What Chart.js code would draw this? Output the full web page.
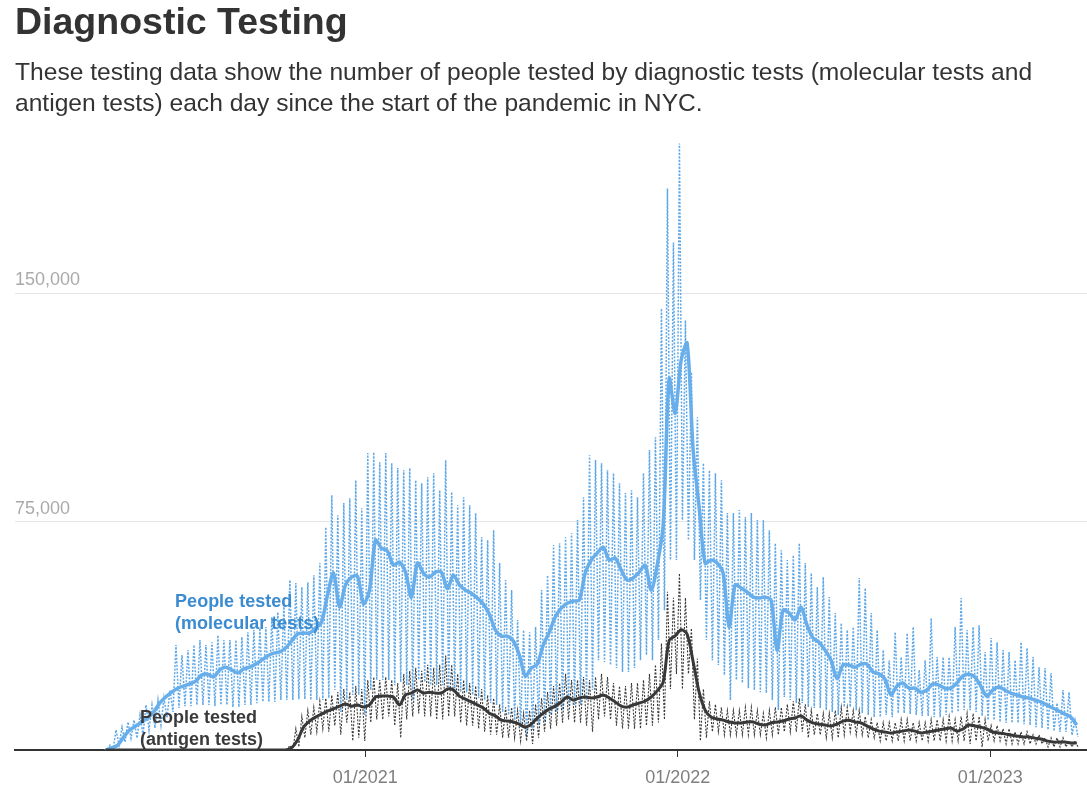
<!DOCTYPE html>
<html>
<head>
<meta charset="utf-8">
<title>Diagnostic Testing</title>
<script src="https://cdn.jsdelivr.net/npm/chart.js@4.4.1/dist/chart.umd.min.js"></script>
<style>
  body { margin: 0; background: #fff; font-family: "Liberation Sans", Arial, sans-serif; color: #333; }
  #wrap { position: relative; width: 1087px; height: 791px; overflow: hidden; }
  h1 { position: absolute; left: 15px; top: -1px; margin: 0; font-size: 37.5px; line-height: 44px; font-weight: bold; color: #333; }
  .sub { position: absolute; left: 15px; top: 56px; margin: 0; font-size: 24.6px; line-height: 31px; color: #333; white-space: nowrap; }
  canvas { position: absolute; left: 0; top: 0; }
</style>
</head>
<body>
<div id="wrap">
  <canvas id="chart" width="1087" height="791"></canvas>
  <h1>Diagnostic Testing</h1>
  <p class="sub">These testing data show the number of people tested by diagnostic tests (molecular tests and<br>antigen tests) each day since the start of the pandemic in NYC.</p>
</div>
<script>
// weekly readings, first week starting 2020-03-01, values in thousands of people
const firstWeek = '2020-03-01';

// molecular tests: 7-day average
const molecularAvgK = [
  0, 0.7, 1.6, 4.3, 6.6, 7.9, 9.2, 10.5, 12.5, 15.4,
  17.4, 19.0, 20.3, 21.0, 21.7, 22.6, 24.6, 24.9, 24.0, 26.3,
  27.2, 26.3, 25.3, 26.6, 27.2, 28.2, 29.5, 30.9, 31.8, 32.2,
  33.5, 35.8, 38.1, 38.4, 38.4, 40.0, 42.0, 50.9, 58.1, 47.0,
  54.2, 56.8, 57.1, 48.0, 52.5, 68.9, 66.3, 65.3, 60.7, 61.7,
  58.4, 50.2, 61.4, 58.1, 56.8, 58.4, 58.4, 53.0, 57.4, 54.2,
  52.5, 51.5, 49.9, 47.9, 44.6, 39.4, 37.4, 37.4, 35.8, 31.2,
  24.3, 26.9, 28.2, 34.5, 38.7, 43.7, 46.6, 48.2, 48.9, 49.2,
  58.1, 62.4, 64.7, 66.6, 62.4, 63.0, 59.1, 55.8, 56.5, 58.4,
  60.7, 52.5, 60.7, 73.8, 122.0, 110.6, 128.0, 133.6, 98.5, 79.8,
  61.4, 62.4, 61.4, 58.1, 40.5, 54.2, 53.2, 51.9, 50.2, 49.9,
  50.2, 49.2, 32.8, 45.9, 45.0, 42.7, 46.9, 41.0, 36.8, 35.4,
  32.8, 29.5, 23.5, 27.9, 27.9, 27.2, 28.2, 28.2, 25.6, 25.0,
  23.3, 18.1, 21.0, 22.0, 20.3, 20.3, 19.0, 19.7, 21.7, 21.3,
  20.3, 20.3, 22.0, 24.3, 24.9, 24.0, 21.0, 17.7, 19.7, 20.7,
  19.7, 18.7, 18.1, 17.4, 17.1, 16.4, 15.8, 14.8, 13.8, 12.8,
  11.8, 10.8, 8.2
];

// molecular tests: daily values, weekday high and weekend low of each week
const molecularHighK = [
  0, 1.6, 6.6, 7.5, 9.2, 9.8, 11.5, 14.8, 14.8, 16.4,
  17.1, 19.7, 34.5, 31.2, 32.8, 34.5, 36.1, 34.5, 35.4, 37.7,
  36.1, 36.1, 36.1, 37.1, 38.7, 39.4, 40.0, 40.4, 43.7, 45.3,
  48.2, 55.8, 54.8, 53.5, 55.1, 57.4, 61.4, 73.2, 83.7, 77.1,
  81.1, 82.7, 88.6, 79.4, 97.5, 97.8, 94.5, 97.5, 94.2, 92.6,
  91.9, 92.6, 88.6, 87.6, 89.6, 90.9, 85.3, 95.2, 84.7, 80.4,
  83.0, 80.4, 77.8, 69.9, 68.9, 72.2, 61.4, 55.8, 52.5, 42.7,
  39.4, 38.7, 40.4, 52.5, 57.4, 67.3, 67.9, 69.9, 71.2, 75.5,
  83.0, 96.8, 95.2, 94.2, 91.9, 90.9, 87.6, 84.4, 85.3, 83.0,
  90.9, 98.5, 102.7, 145.0, 184.4, 166.7, 199.2, 141.1, 124.1, 109.3,
  94.2, 91.9, 90.9, 88.6, 77.8, 77.8, 78.8, 76.5, 77.8, 75.5,
  75.5, 72.2, 67.9, 65.6, 62.4, 64.0, 67.9, 61.4, 58.1, 53.5,
  56.8, 50.2, 45.0, 41.7, 39.4, 40.4, 56.5, 53.2, 45.0, 39.4,
  32.8, 29.5, 38.7, 30.5, 38.4, 40.4, 26.3, 29.5, 43.3, 30.5,
  30.5, 30.5, 40.4, 49.9, 39.4, 40.4, 41.0, 32.2, 36.8, 35.4,
  32.8, 32.2, 29.5, 35.4, 33.5, 30.5, 27.2, 26.9, 25.3, 15.4,
  19.7, 19.0, 9.8
];
const molecularLowK = [
  0, 0, 1.6, 2.6, 3.9, 3.9, 4.9, 6.6, 7.2, 8.2,
  10.5, 12.5, 13.8, 14.4, 14.4, 14.8, 14.8, 14.8, 14.4, 14.8,
  14.8, 14.1, 14.1, 14.8, 14.8, 15.4, 15.8, 15.8, 15.8, 16.4,
  16.4, 16.4, 16.7, 16.7, 16.4, 16.4, 16.4, 17.1, 19.7, 12.5,
  16.4, 18.1, 18.1, 11.5, 19.7, 23.0, 23.0, 23.0, 21.3, 22.3,
  21.3, 16.4, 23.0, 22.3, 21.3, 21.3, 21.3, 19.7, 19.7, 19.0,
  19.0, 18.1, 17.1, 16.4, 15.4, 14.8, 12.5, 11.5, 9.8, 7.5,
  4.3, 6.6, 8.2, 9.2, 11.5, 12.5, 13.1, 14.8, 14.8, 14.8,
  16.4, 19.7, 29.5, 28.9, 27.9, 26.9, 25.6, 25.6, 26.9, 29.5,
  31.2, 29.5, 36.1, 45.9, 62.4, 62.4, 75.5, 68.9, 62.4, 49.2,
  36.1, 29.5, 27.9, 24.6, 16.4, 23.0, 22.0, 20.3, 19.7, 19.0,
  18.7, 16.4, 13.1, 17.4, 16.4, 15.4, 15.4, 14.1, 13.8, 13.8,
  13.1, 12.5, 11.5, 14.1, 14.1, 13.1, 12.1, 11.5, 10.8, 10.8,
  11.5, 10.8, 12.1, 12.1, 11.8, 11.5, 11.2, 11.2, 10.8, 10.8,
  11.5, 12.1, 12.5, 13.1, 13.1, 12.5, 11.2, 9.8, 9.8, 9.2,
  8.9, 8.9, 8.9, 8.5, 8.2, 7.5, 7.2, 6.6, 6.2, 5.9,
  5.9, 4.9, 4.3
];

// antigen tests: 7-day average
const antigenAvgK = [
  0, 0, 0, 0, 0, 0, 0, 0, 0, 0,
  0, 0, 0, 0, 0, 0, 0, 0, 0, 0,
  0, 0, 0, 0, 0, 0, 0, 0, 0, 0,
  0, 0.7, 3.3, 7.5, 9.5, 10.8, 11.8, 12.8, 13.5, 14.4,
  15.1, 14.4, 14.8, 14.1, 14.8, 17.4, 17.7, 17.7, 17.4, 14.8,
  18.1, 18.7, 19.7, 18.7, 19.0, 18.7, 18.7, 20.0, 19.7, 17.7,
  16.7, 15.8, 14.8, 13.8, 12.1, 11.2, 9.8, 9.5, 9.2, 8.5,
  7.5, 8.5, 10.5, 12.1, 13.5, 14.4, 15.8, 17.4, 16.4, 17.1,
  17.4, 17.1, 17.4, 18.1, 17.1, 15.8, 14.4, 14.1, 14.8, 15.4,
  16.1, 17.4, 19.4, 22.3, 36.0, 37.5, 39.5, 38.0, 29.0, 19.0,
  13.1, 10.8, 10.2, 9.8, 9.2, 8.9, 8.9, 9.2, 9.2, 8.5,
  8.2, 8.9, 9.2, 9.5, 10.2, 10.5, 11.2, 9.8, 8.9, 8.5,
  8.2, 7.9, 8.5, 9.5, 9.8, 9.2, 8.9, 7.9, 6.9, 6.2,
  5.9, 5.6, 5.9, 6.2, 6.6, 6.2, 5.6, 5.9, 6.2, 6.6,
  6.9, 7.2, 6.2, 6.9, 8.2, 7.9, 7.5, 6.9, 5.9, 5.6,
  5.3, 4.9, 4.6, 4.3, 4.3, 3.9, 3.6, 3.0, 2.6, 2.6,
  2.6, 2.3, 2.3
];

// antigen tests: daily values, high and low of each week
const antigenHighK = [
  0, 0, 0, 0, 0, 0, 0, 0, 0, 0,
  0, 0, 0, 0, 0, 0, 0, 0, 0, 0,
  0, 0, 0, 0, 0, 0, 0, 0, 0, 0,
  0, 1.5, 7, 11, 13, 14, 16, 17, 18, 19,
  20, 19, 21, 20, 23, 24, 23, 24, 23, 22,
  25, 26, 27, 26, 28, 27, 28, 31, 28, 25,
  23, 22, 21, 20, 18, 17, 15, 14, 14, 13,
  12, 13, 15, 17, 19, 21, 22, 25, 23, 23,
  24, 23, 24, 25, 24, 22, 21, 21, 22, 22,
  23, 25, 28, 35, 52, 50, 58, 50, 40, 30,
  20, 16, 15, 14, 13, 13, 13, 14, 14, 13,
  12, 13, 14, 14, 15, 16, 17, 15, 13, 12,
  12, 12, 13, 14, 14, 13, 13, 11, 10, 9,
  9, 9, 9, 10, 10, 9, 9, 9, 10, 10,
  10, 11, 10, 11, 12, 12, 11, 10, 8, 8,
  7, 7, 6, 6, 6, 5, 5, 4, 4, 4,
  4, 3, 3
];
const antigenLowK = [
  0, 0, 0, 0, 0, 0, 0, 0, 0, 0,
  0, 0, 0, 0, 0, 0, 0, 0, 0, 0,
  0, 0, 0, 0, 0, 0, 0, 0, 0, 0,
  0, 0, 1, 4, 5, 6, 7, 6, 8, 5,
  9, 3, 4, 3, 9, 10, 10, 11, 8, 4,
  10, 11, 12, 11, 11, 10, 10, 11, 11, 9,
  8, 8, 7, 6, 5, 5, 4, 4, 4, 3,
  3, 2, 4, 6, 7, 8, 9, 10, 9, 9,
  8, 6, 10, 11, 10, 8, 7, 7, 7, 7,
  8, 8, 9, 10, 20, 25, 20, 25, 10, 3,
  4, 6, 6, 5, 5, 5, 5, 5, 5, 5,
  4, 5, 5, 6, 6, 6, 6, 4, 5, 5,
  4, 4, 4, 5, 6, 5, 5, 4, 4, 3,
  3, 3, 3, 3, 3, 3, 3, 3, 3, 3,
  3, 3, 3, 3, 2, 3, 1, 3, 3, 3,
  2, 2, 2, 2, 2, 2, 2, 1, 1, 1,
  1, 1, 1
];

// x axis
const tickLabels = ['01/2021', '01/2022', '01/2023'];
const tickDates = ['2021-01-01', '2022-01-01', '2023-01-01'];
const yTicks = [0, 75000, 150000];

const colors = {
  molecular: '#67aeea',
  molecularDaily: '#5fa8e8',
  molecularText: '#3a8bd0',
  antigen: '#383838',
  antigenText: '#3a3a3a',
  grid: '#e6e6e6',
  axis: '#333333',
  yLabel: '#aaaaaa',
  xLabel: '#7f7f7f'
};
const FONT = '"Liberation Sans", Arial, Helvetica, sans-serif';

// days relative to 2021-01-01
function dayOf(iso) {
  return (Date.parse(iso + 'T00:00:00Z') - Date.parse('2021-01-01T00:00:00Z')) / 86400000;
}
const startDay = dayOf(firstWeek);
const tickDays = tickDates.map(dayOf);

function avgPoints(arr) {
  return arr.map((v, i) => ({ x: startDay + 7 * i + 3, y: v * 1000 }));
}
function dailyPoints(high, low) {
  const pts = [];
  high.forEach((v, i) => {
    const d = startDay + 7 * i;
    pts.push({ x: d + 1, y: v * 1000 });
    pts.push({ x: d + 4.5, y: low[i] * 1000 });
  });
  return pts;
}

const seriesLabels = {
  id: 'seriesLabels',
  afterDatasetsDraw(chart) {
    const { ctx, scales: { x, y } } = chart;
    ctx.save();
    ctx.font = 'bold 18px ' + FONT;
    ctx.textBaseline = 'middle';
    ctx.textAlign = 'left';
    ctx.fillStyle = colors.molecularText;
    const mx = x.getPixelForValue(-222);
    ctx.fillText('People tested', mx, y.getPixelForValue(48600));
    ctx.fillText('(molecular tests)', mx, y.getPixelForValue(41400));
    ctx.fillStyle = colors.antigenText;
    const ax = x.getPixelForValue(-263);
    ctx.fillText('People tested', ax, y.getPixelForValue(10500));
    ctx.fillText('(antigen tests)', ax, y.getPixelForValue(3300));
    ctx.restore();
  }
};

new Chart(document.getElementById('chart').getContext('2d'), {
  type: 'line',
  data: {
    datasets: [
      {
        label: 'People tested (antigen tests), 7-day average',
        data: avgPoints(antigenAvgK),
        borderColor: colors.antigen,
        borderWidth: 3,
        tension: 0.3,
        order: 0
      },
      {
        label: 'People tested (antigen tests), daily',
        data: dailyPoints(antigenHighK, antigenLowK),
        borderColor: colors.antigen,
        borderWidth: 1.1,
        borderDash: [2, 1.5],
        tension: 0,
        order: 1
      },
      {
        label: 'People tested (molecular tests), 7-day average',
        data: avgPoints(molecularAvgK),
        borderColor: colors.molecular,
        borderWidth: 3.5,
        tension: 0.3,
        order: 2
      },
      {
        label: 'People tested (molecular tests), daily',
        data: dailyPoints(molecularHighK, molecularLowK),
        borderColor: colors.molecularDaily,
        borderWidth: 1.5,
        borderDash: [2, 1.5],
        tension: 0,
        order: 3
      }
    ]
  },
  options: {
    responsive: false,
    devicePixelRatio: 1,
    animation: false,
    events: [],
    elements: { point: { radius: 0 } },
    layout: { padding: { top: 141, left: 15, right: 0, bottom: 0 } },
    plugins: {
      legend: { display: false },
      tooltip: { enabled: false },
      title: { display: false }
    },
    scales: {
      x: {
        type: 'linear',
        min: -409,
        max: 843,
        afterBuildTicks(axis) {
          axis.ticks = tickDays.map(v => ({ value: v }));
        },
        afterFit(axis) {
          axis.height = 41;
        },
        ticks: {
          autoSkip: false,
          maxRotation: 0,
          padding: 10,
          color: colors.xLabel,
          font: { size: 18, family: FONT },
          callback: v => tickLabels[tickDays.indexOf(v)]
        },
        grid: {
          drawOnChartArea: false,
          drawTicks: true,
          tickLength: 7,
          color: colors.axis,
          lineWidth: 1
        },
        border: { display: true, color: colors.axis, width: 2 }
      },
      y: {
        min: 0,
        max: 200000,
        afterBuildTicks(axis) {
          axis.ticks = yTicks.map(v => ({ value: v }));
        },
        ticks: {
          mirror: true,
          padding: 0,
          labelOffset: -13,
          color: colors.yLabel,
          font: { size: 18, family: FONT },
          callback: v => (v === 0 ? '' : v.toLocaleString('en-US'))
        },
        grid: {
          color: colors.grid,
          lineWidth: 1,
          drawTicks: false
        },
        border: { display: false }
      }
    }
  },
  plugins: [seriesLabels]
});
</script>
</body>
</html>
